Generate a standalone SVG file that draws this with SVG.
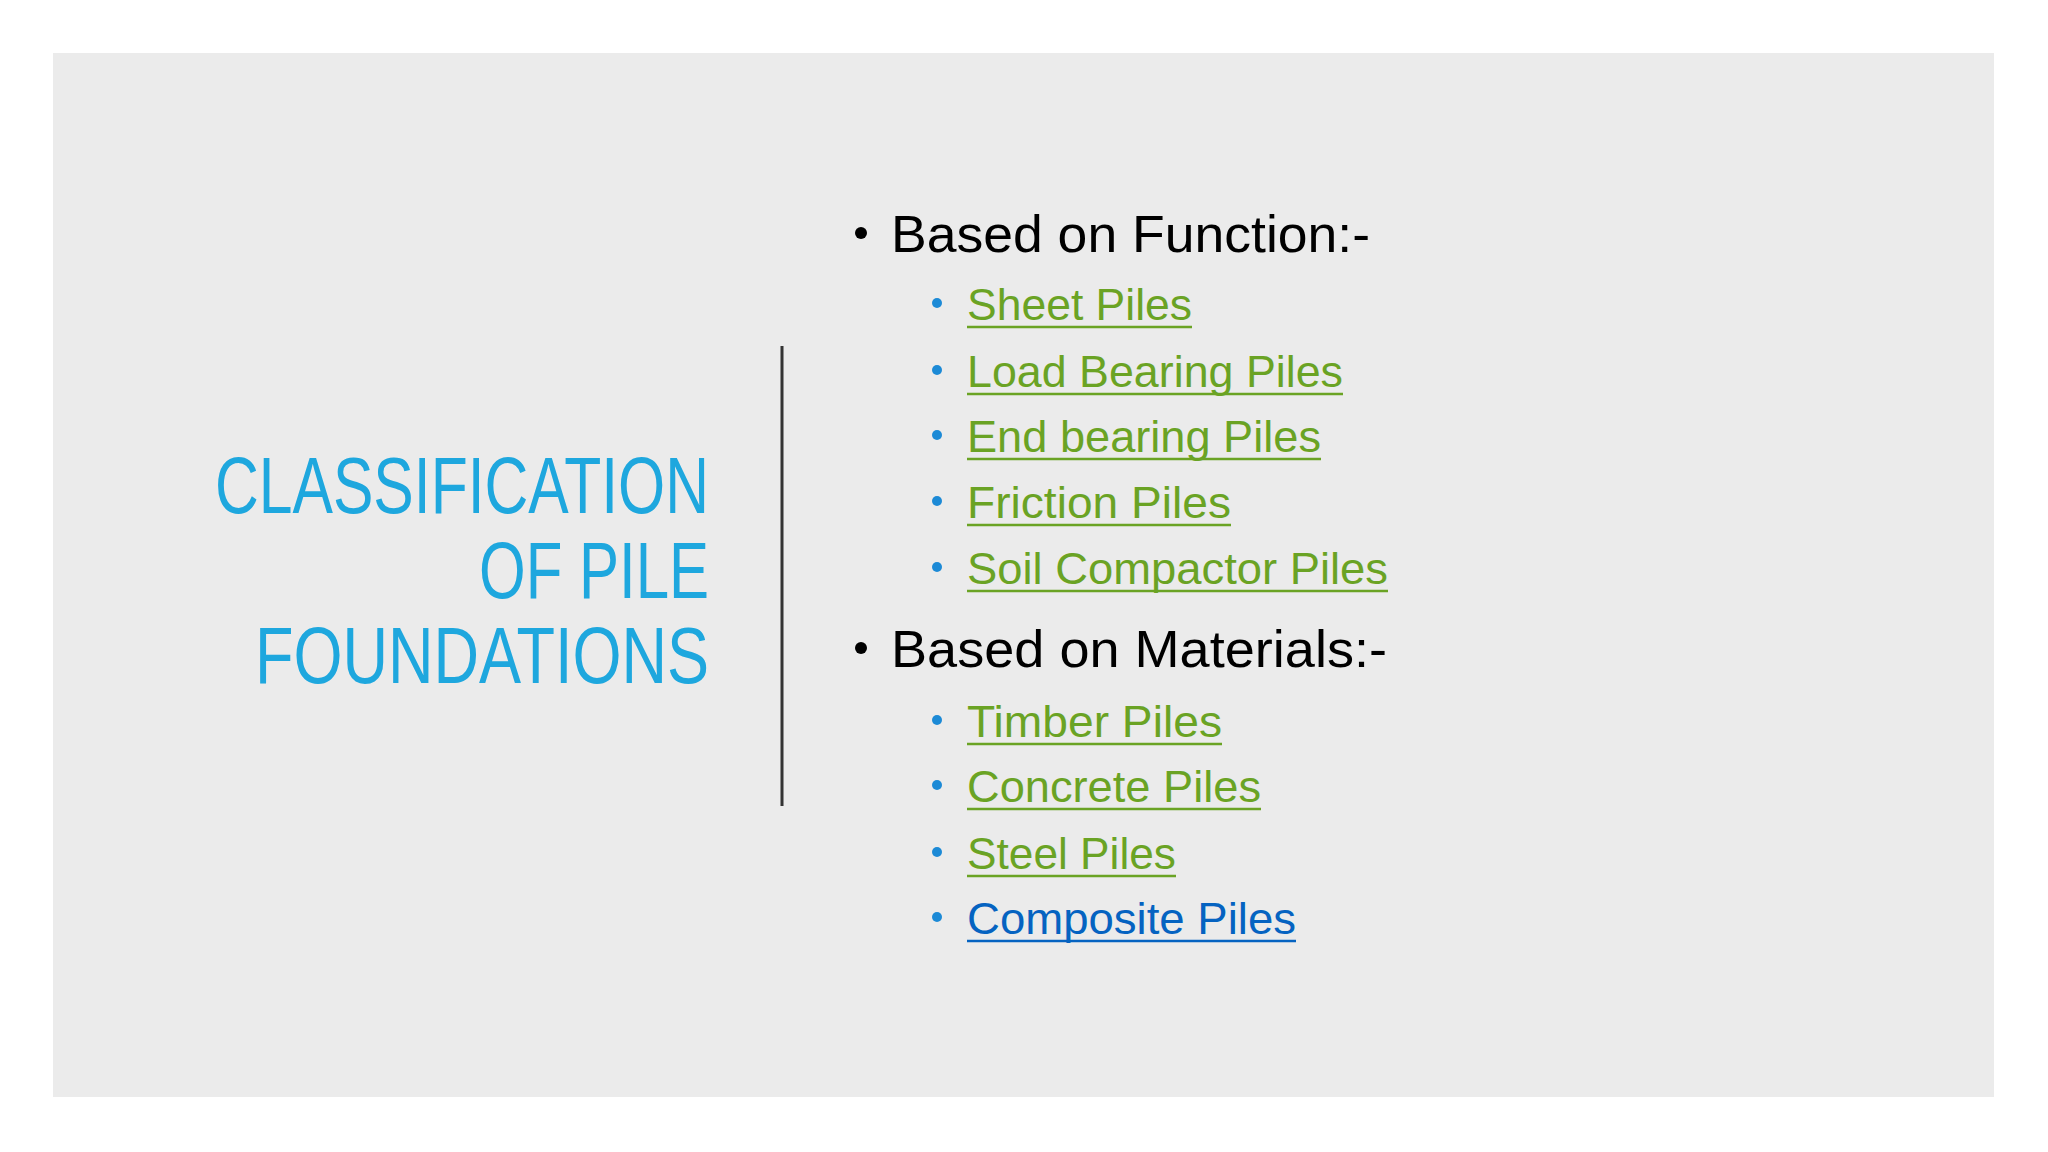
<svg xmlns="http://www.w3.org/2000/svg" width="2048" height="1152" viewBox="0 0 2048 1152">
<style>
.t{font-family:"Liberation Sans",Arial,sans-serif;font-size:80px;fill:#1ea7de;text-anchor:end}
.h{font-family:"Liberation Sans",Arial,sans-serif;font-size:52px;fill:#000}
.s{font-family:"Liberation Sans",Arial,sans-serif;font-size:44px;fill:#6aa324}
.b{font-family:"Liberation Sans",Arial,sans-serif;font-size:44px;fill:#1c8ad6}
.u{stroke:#6aa324;stroke-width:2.5}
</style>
<rect width="2048" height="1152" fill="#fff"/>
<rect x="53" y="53" width="1941" height="1044" fill="#ebebeb"/>
<g id="title">
<text class="t" x="709" y="513" textLength="494" lengthAdjust="spacingAndGlyphs">CLASSIFICATION</text>
<text class="t" x="709" y="598" textLength="230" lengthAdjust="spacingAndGlyphs">OF PILE</text>
<text class="t" x="709" y="683" textLength="454" lengthAdjust="spacingAndGlyphs">FOUNDATIONS</text>
</g>
<line x1="782" y1="346" x2="782" y2="806" stroke="#333" stroke-width="3"/>
<g id="function">
<circle cx="861" cy="233" r="6" fill="#000"/>
<text class="h" x="891" y="252" textLength="479" lengthAdjust="spacingAndGlyphs">Based on Function:-</text>
</g>
<g id="materials">
<circle cx="861" cy="648" r="6" fill="#000"/>
<text class="h" x="891" y="667" textLength="496" lengthAdjust="spacingAndGlyphs">Based on Materials:-</text>
</g>
<g id="items">
<g fill="#1c8ad6">
<circle cx="937" cy="303" r="5"/><circle cx="937" cy="370" r="5"/><circle cx="937" cy="435" r="5"/><circle cx="937" cy="501" r="5"/><circle cx="937" cy="567" r="5"/>
<circle cx="937" cy="720" r="5"/><circle cx="937" cy="785" r="5"/><circle cx="937" cy="852" r="5"/><circle cx="937" cy="917" r="5"/>
</g>
<text class="s" x="967" y="320" textLength="225" lengthAdjust="spacingAndGlyphs">Sheet Piles</text>
<line class="u" x1="967" y1="327" x2="1192" y2="327"/>
<text class="s" x="967" y="387" textLength="376" lengthAdjust="spacingAndGlyphs">Load Bearing Piles</text>
<line class="u" x1="967" y1="394" x2="1343" y2="394"/>
<text class="s" x="967" y="452" textLength="354" lengthAdjust="spacingAndGlyphs">End bearing Piles</text>
<line class="u" x1="967" y1="459" x2="1321" y2="459"/>
<text class="s" x="967" y="518" textLength="264" lengthAdjust="spacingAndGlyphs">Friction Piles</text>
<line class="u" x1="967" y1="525" x2="1231" y2="525"/>
<text class="s" x="967" y="584" textLength="421" lengthAdjust="spacingAndGlyphs">Soil Compactor Piles</text>
<line class="u" x1="967" y1="591" x2="1388" y2="591"/>
<text class="s" x="967" y="737" textLength="255" lengthAdjust="spacingAndGlyphs">Timber Piles</text>
<line class="u" x1="967" y1="744" x2="1222" y2="744"/>
<text class="s" x="967" y="802" textLength="294" lengthAdjust="spacingAndGlyphs">Concrete Piles</text>
<line class="u" x1="967" y1="809" x2="1261" y2="809"/>
<text class="s" x="967" y="869" textLength="209" lengthAdjust="spacingAndGlyphs">Steel Piles</text>
<line class="u" x1="967" y1="876" x2="1176" y2="876"/>
<text class="s" x="967" y="934" textLength="329" lengthAdjust="spacingAndGlyphs" fill="#0563c1" style="fill:#0563c1">Composite Piles</text>
<line x1="967" y1="941" x2="1296" y2="941" stroke="#0563c1" stroke-width="2.5"/>
</g>
</svg>
